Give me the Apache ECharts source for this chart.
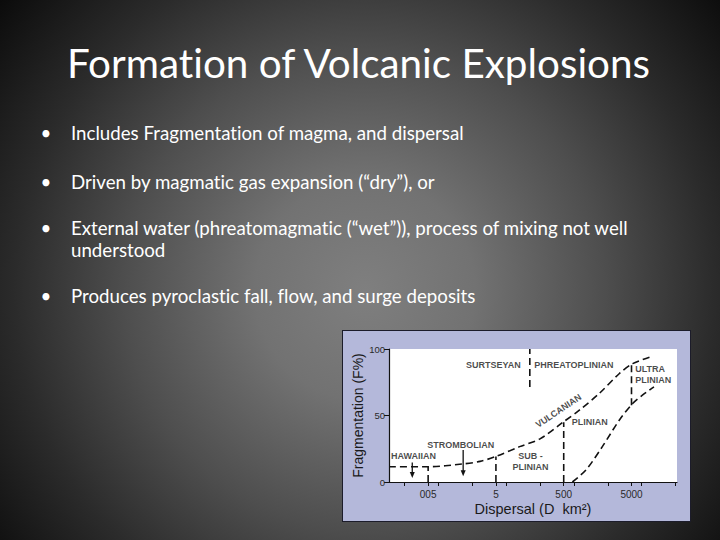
<!DOCTYPE html>
<html>
<head>
<meta charset="utf-8">
<script src="https://cdn.jsdelivr.net/npm/echarts@6/dist/echarts.min.js"></script>
<style>
html, body { margin: 0; padding: 0; width: 720px; height: 540px; overflow: hidden; }
body {
  background: radial-gradient(circle 470px at 365px 290px, #7f7f7f 0px, #727272 110px, #4e4e4e 240px, #2b2b2b 350px, #0a0a0a 470px);
  position: relative;
}
#box {
  position: absolute; left: 342px; top: 330px; width: 349px; height: 192px;
  background: #b4b8da; border: 1px solid #1c1c2a; box-sizing: border-box;
}
#chart { position: absolute; left: 0; top: 0; width: 720px; height: 540px; }
#chart text { font-variant-ligatures: none !important; font-feature-settings: "liga" 0, "clig" 0 !important; }
</style>
</head>
<body>
<div id="box"></div>
<div id="chart"></div>
<script>
// ---------- slide text ----------
const slideTitle = 'Formation of Volcanic Explosions';
const bulletTexts = [
  'Includes Fragmentation of magma, and dispersal',
  'Driven by magmatic gas expansion (\u201Cdry\u201D), or',
  'External water (phreatomagmatic (\u201Cwet\u201D)), process of mixing not well\nunderstood',
  'Produces pyroclastic fall, flow, and surge deposits'
];

// ---------- chart data (D in km², F in %) ----------
const dispersalTicks = [0.01, 0.1, 1, 10, 100, 1000, 10000, 100000, 1000000];
const dispersalLabelValues = [0.05, 5, 500, 50000];
const dispersalLabelTexts = ['005', '5', '500', '5000'];
const fragmentationTicks = [0, 50, 100];

const upperCurveD = [0.0035, 0.05, 0.5, 1.7, 5, 25, 100, 480, 1450, 5600, 22000, 54000, 205000];
const upperCurveF = [11.5, 11.5, 13.5, 15.5, 19.2, 26.6, 32.4, 45, 54, 66.6, 81.6, 89, 94.5];

const lowerCurveD = [900, 2300, 6900, 22000, 54000, 105000, 230000];
const lowerCurveF = [0, 9.2, 26.6, 46.6, 59, 65.3, 71.5];

const boundaryD     = [0.05, 5, 500, 50, 50000];
const boundaryFLow  = [0, 0, 0, 71.5, 57.8];
const boundaryFHigh = [11.5, 19.2, 45, 100, 88];

const arrowD    = [0.017, 0.54];
const arrowFTop = [14.7, 24];
const arrowFTip = [3.7, 5];

const regimeNames = ['SURTSEYAN', 'PHREATOPLINIAN', 'ULTRA\nPLINIAN', 'VULCANIAN', 'PLINIAN', 'STROMBOLIAN', 'HAWAIIAN', 'SUB -\nPLINIAN'];
const regimeD     = [4.2, 1000, 64000, 350, 2950, 0.46, 0.0186, 52];
const regimeF     = [88, 87.8, 80.5, 53.5, 44.9, 28.1, 19.9, 15.3];

// ---------- layout helpers ----------
function fitSize(text, family, target) {
  const ctx = document.createElement('canvas').getContext('2d');
  ctx.font = '100px ' + family;
  return 100 * target / ctx.measureText(text).width;
}
const slideFont = 'Lato';
const titleSize = fitSize(slideTitle, slideFont, 586);
const bulletSize = fitSize(bulletTexts[0], slideFont, 393);
const bulletY = [133, 182, 228, 296];
const bulletLineHeight = 21.5;

const graphics = [];
graphics.push({
  type: 'text', left: 'center', top: 68 - titleSize * 0.62, z: 10,
  style: { text: slideTitle, fill: '#ffffff', font: titleSize.toFixed(1) + 'px ' + slideFont }
});
bulletTexts.forEach((t, i) => {
  graphics.push({ type: 'text', x: 46, y: bulletY[i], z: 10,
    style: { text: '\u2022', fill: '#ffffff', font: bulletSize.toFixed(1) + 'px ' + slideFont, align: 'center', verticalAlign: 'middle' } });
  graphics.push({ type: 'text', x: 71, y: bulletY[i] - bulletLineHeight / 2, z: 10,
    style: { text: t, fill: '#ffffff', font: bulletSize.toFixed(1) + 'px ' + slideFont,
      lineHeight: bulletLineHeight, verticalAlign: 'top' } });
});

// ---------- series ----------
const ink = '#121212';
const dashed = { color: ink, width: 1.6, type: [7, 4] };
const series = [];
series.push({
  type: 'line', data: upperCurveD.map((d, i) => [d, upperCurveF[i]]),
  smooth: 0.3, symbol: 'none', lineStyle: dashed, silent: true, z: 3
});
series.push({
  type: 'line', data: lowerCurveD.map((d, i) => [d, lowerCurveF[i]]),
  smooth: 0.3, symbol: 'none', lineStyle: dashed, silent: true, z: 3
});
boundaryD.forEach((d, i) => {
  series.push({
    type: 'line', data: [[d, boundaryFLow[i]], [d, boundaryFHigh[i]]],
    symbol: 'none', lineStyle: dashed, silent: true, z: 3
  });
});
arrowD.forEach((d, i) => {
  series.push({
    type: 'line', silent: true, z: 4, showSymbol: true,
    data: [
      { value: [d, arrowFTop[i]], symbol: 'none' },
      { value: [d, arrowFTip[i] + 1.5], symbol: 'triangle', symbolSize: [5, 6], symbolRotate: 180 }
    ],
    lineStyle: { color: ink, width: 1.3 },
    itemStyle: { color: ink, borderWidth: 0 }
  });
});
series.push({
  type: 'scatter', silent: true, z: 5, symbolSize: 1,
  itemStyle: { color: 'rgba(0,0,0,0)' },
  data: regimeNames.map((n, i) => {
    const item = { value: [regimeD[i], regimeF[i]], name: n };
    if (n === 'VULCANIAN') item.label = { rotate: 34 };
    if (n.indexOf('ULTRA') === 0) item.label = { align: 'left' };
    return item;
  }),
  label: {
    show: true, position: 'inside', formatter: p => p.name,
    color: '#1a1a1a', fontSize: 9, fontWeight: 'bold', fontFamily: 'Liberation Sans', lineHeight: 11
  }
});

function labelFor(v) {
  let best = 0, bestDiff = Infinity;
  dispersalLabelValues.forEach((lv, i) => {
    const diff = Math.abs(Math.log10(v) - Math.log10(lv));
    if (diff < bestDiff) { bestDiff = diff; best = i; }
  });
  return dispersalLabelTexts[best];
}

const chart = echarts.init(document.getElementById('chart'), null, { renderer: 'svg' });
chart.setOption({
  backgroundColor: 'transparent',
  animation: false,
  graphic: graphics,
  grid: { left: 389, top: 349, right: 43, bottom: 58, show: true, backgroundColor: '#ffffff', borderWidth: 0, containLabel: false },
  xAxis: {
    type: 'log', logBase: 10, min: 0.0035, max: 1100000,
    name: 'Dispersal (D  km\u00B2)', nameLocation: 'middle', nameGap: 19,
    nameTextStyle: { color: '#1a1a1a', fontSize: 14.5, fontFamily: 'Liberation Sans' },
    axisLine: { show: true, lineStyle: { color: ink, width: 1.2 } },
    axisTick: { show: true, inside: false, length: 4, lineStyle: { color: ink, width: 1 },
      customValues: dispersalTicks.concat(dispersalLabelValues) },
    axisLabel: { show: true, margin: 7, color: '#2a2a2a', fontSize: 10, fontFamily: 'Liberation Sans',
      customValues: dispersalLabelValues, formatter: v => labelFor(v) },
    splitLine: { show: false }, minorTick: { show: false }
  },
  yAxis: {
    type: 'value', min: 0, max: 100, interval: 50,
    name: 'Fragmentation (F%)', nameLocation: 'middle', nameGap: 24,
    nameTextStyle: { color: '#1a1a1a', fontSize: 14, fontFamily: 'Liberation Sans' },
    axisLine: { show: true, lineStyle: { color: ink, width: 1.2 } },
    axisTick: { show: true, inside: false, length: 5, lineStyle: { color: ink, width: 1 },
      customValues: fragmentationTicks },
    axisLabel: { show: true, margin: 4, color: '#2a2a2a', fontSize: 9.5, fontFamily: 'Liberation Sans',
      customValues: fragmentationTicks },
    splitLine: { show: false }
  },
  series: series
});
</script>
</body>
</html>
